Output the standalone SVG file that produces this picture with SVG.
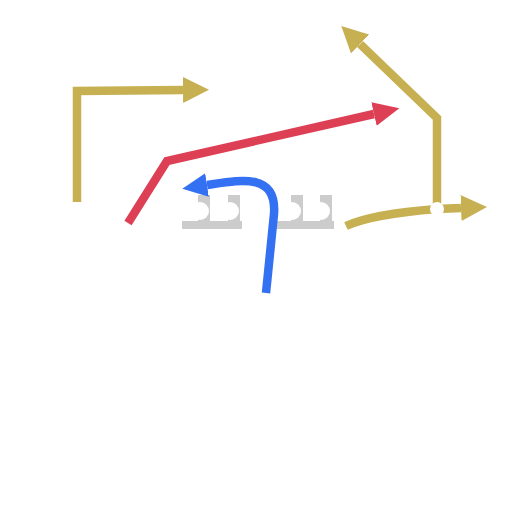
<svg xmlns="http://www.w3.org/2000/svg" width="512" height="512" viewBox="0 0 512 512">
<defs>
<style>
.route{fill:none;stroke-width:8.5;stroke-linecap:butt;stroke-linejoin:miter}
.y{stroke:#c7b052}
.r{stroke:#dd3f55}
.b{stroke:#3371f2}
.g{fill:#cccccc}
.w{fill:#ffffff}
</style>
<marker id="ay" markerUnits="userSpaceOnUse" markerWidth="27" markerHeight="27" refX="0" refY="13" orient="auto"><path d="M0,0 L26,13 L0,26 z" fill="#c7b052"/></marker>
<marker id="ar" markerUnits="userSpaceOnUse" markerWidth="27" markerHeight="27" refX="0" refY="12" orient="auto"><path d="M0,0 L26,12 L0,24 z" fill="#dd3f55"/></marker>
<marker id="ab" markerUnits="userSpaceOnUse" markerWidth="27" markerHeight="27" refX="0" refY="12" orient="auto"><path d="M0,0 L25,12 L0,24 z" fill="#3371f2"/></marker>
</defs>
<rect width="512" height="512" fill="#ffffff"/>
<g id="player1"><rect class="g" x="182" y="221" width="30" height="8"/><rect class="g" x="198" y="195" width="12" height="27"/><circle class="w" cx="200" cy="211" r="9"/></g>
<g id="player2"><rect class="g" x="212" y="221" width="30" height="8"/><rect class="g" x="228" y="195" width="12" height="27"/><circle class="w" cx="230" cy="211" r="9"/></g>
<g id="player3"><rect class="g" x="274" y="221" width="30" height="8"/><rect class="g" x="291" y="195" width="12" height="27"/><circle class="w" cx="292" cy="211" r="9"/></g>
<g id="player4"><rect class="g" x="304" y="221" width="30" height="8"/><rect class="g" x="320" y="195" width="12" height="27"/><circle class="w" cx="321" cy="211" r="9"/></g>
<g id="connectors">
<path class="route y" d="M77,202 L77,91 L183,90" marker-end="url(#ay)"/>
<path class="route r" d="M128,223 L167,161 L374,114" marker-end="url(#ar)"/>
<path class="route b" d="M266,293 L274,214 C277,172 240,180 207,185" marker-end="url(#ab)"/>
<path class="route y" d="M437,206 L437,118 L360,44" marker-end="url(#ay)"/>
<path class="route y" d="M346,226 Q372,214 437,209 L461,208" marker-end="url(#ay)"/>
</g>
<g id="receiver"><circle class="w" cx="437" cy="209" r="7"/></g>
</svg>
